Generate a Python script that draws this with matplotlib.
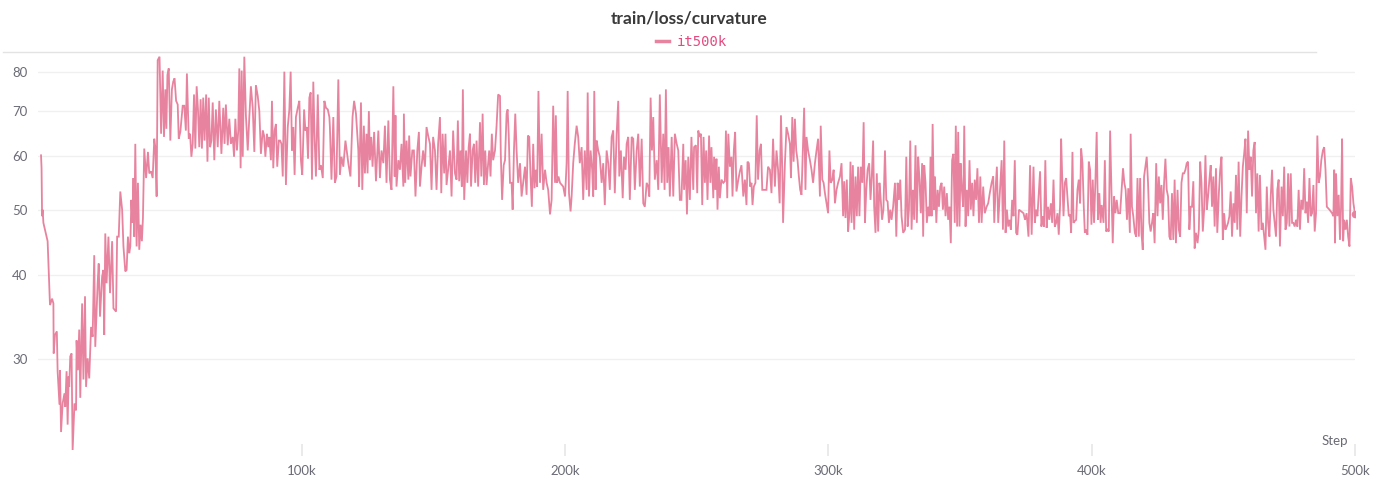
import numpy as np
import matplotlib
matplotlib.use("Agg")
import matplotlib.pyplot as plt
from matplotlib.lines import Line2D
from matplotlib.ticker import FixedLocator, NullLocator, FuncFormatter

# (step in k, curvature), split into stretches of the run
warmup = [
    (1.0, 60.2), (1.2, 57.6), (1.4, 48.9), (1.6, 50.0), (1.9, 47.8), (3.5, 44.9), (4.4, 36.1), (5.2, 36.9),
    (5.7, 36.3), (5.8, 30.6), (6.3, 32.6), (7.0, 33.0), (7.3, 28.8), (8.0, 25.7), (8.2, 28.9), (8.6, 23.4),
    (9.2, 25.8), (9.9, 26.7), (10.2, 25.5), (10.7, 28.8), (11.1, 24.0), (11.5, 28.3), (11.7, 27.3), (12.1, 30.3),
    (12.6, 30.6), (13.0, 22.0), (13.7, 25.8), (14.3, 25.2), (14.5, 32.0), (15.0, 28.9), (15.5, 33.2), (15.9, 26.3),
    (16.6, 36.3), (17.1, 28.0), (17.7, 37.2), (18.1, 27.3), (18.7, 30.1), (19.3, 28.1), (20.0, 33.5), (20.6, 32.4),
    (21.2, 42.8), (21.6, 31.3), (22.5, 38.9), (22.9, 41.6), (23.4, 34.7), (24.2, 39.8), (24.7, 40.7), (25.0, 32.6),
    (25.4, 46.1), (25.9, 38.9), (26.6, 45.6), (27.2, 37.6), (28.0, 44.9), (28.5, 35.7), (29.5, 35.3), (29.9, 45.6),
    (30.5, 45.6), (31.1, 53.2), (31.8, 50.0), (32.3, 44.1), (33.0, 40.5), (33.5, 40.7), (34.0, 45.6), (34.5, 43.1),
    (34.9, 44.1), (35.3, 51.7), (35.7, 47.8), (36.1, 55.7), (36.4, 45.6), (36.8, 62.6), (37.3, 44.1), (37.8, 54.8),
    (38.3, 43.6), (38.8, 47.5), (39.3, 44.9), (39.7, 48.6), (40.2, 61.6), (40.9, 55.7), (41.6, 60.9), (42.1, 56.6),
    (42.8, 57.0), (43.4, 55.7), (44.0, 63.7), (44.4, 61.9), (44.9, 52.3), (45.3, 83.3), (46.0, 84.3), (46.6, 64.8),
    (47.2, 80.4), (47.7, 64.1), (48.2, 75.4), (48.6, 65.9), (49.0, 79.2), (49.5, 81.0), (50.1, 63.3), (50.7, 75.4),
    (51.2, 77.4), (51.7, 78.3), (52.3, 72.5), (52.9, 71.6), (53.3, 63.7), (53.9, 65.2), (54.8, 71.3), (55.4, 71.3),
    (56.0, 65.5), (56.4, 79.6), (57.1, 63.7), (57.6, 64.8), (58.1, 59.9), (58.6, 62.6), (59.1, 74.1), (59.6, 61.6),
    (60.1, 76.2), (60.6, 70.4), (61.1, 61.9), (61.6, 72.9), (62.1, 61.6), (62.6, 73.3), (63.1, 63.3), (63.7, 74.1),
    (64.2, 58.9), (64.7, 73.3), (65.2, 61.9), (65.7, 63.3), (66.2, 72.1), (66.8, 59.2), (67.4, 70.4), (68.1, 61.9),
    (68.7, 72.5), (69.5, 60.5), (70.2, 70.8), (70.7, 62.6), (71.2, 71.6), (71.9, 62.3), (72.5, 68.2), (73.1, 62.6),
    (73.8, 64.1), (74.3, 59.9), (74.8, 68.2), (75.4, 61.2), (75.9, 65.5), (76.3, 81.0), (76.8, 57.6), (77.2, 80.4),
    (77.6, 59.9), (78.2, 84.3), (78.8, 69.0), (79.5, 61.2), (80.1, 68.6), (80.7, 76.2), (81.4, 70.8), (82.0, 60.9),
    (82.6, 76.5), (83.3, 73.7), (83.9, 70.0), (84.5, 60.5), (85.2, 65.5), (85.7, 64.4), (86.2, 59.9), (86.8, 64.8),
    (87.3, 61.9), (87.7, 64.1), (88.3, 59.2), (88.7, 72.5), (89.2, 57.6), (89.7, 65.5), (90.2, 67.0), (90.7, 57.9),
    (91.3, 63.3), (91.8, 63.3), (92.3, 62.6), (92.8, 56.0), (93.4, 80.1), (94.0, 54.4), (94.7, 66.3), (95.3, 70.4),
    (95.8, 80.1), (96.3, 61.2), (96.8, 66.3), (97.3, 56.3), (97.8, 68.6), (98.5, 70.8), (99.1, 72.5), (99.7, 59.2),
    (100.2, 56.3), (100.9, 70.4), (101.4, 65.5), (101.9, 66.3), (102.4, 59.5), (102.9, 73.3), (103.4, 74.6),
    (103.9, 55.4), (104.4, 77.4), (104.9, 63.7), (105.4, 56.0), (106.1, 74.1), (106.7, 57.3), (107.3, 58.2),
    (108.0, 55.7), (108.6, 72.5), (109.2, 70.8), (109.9, 70.4), (110.5, 68.6),
]

plateau = [
    (110.7, 66.3), (111.3, 55.4), (112.0, 68.6), (112.6, 54.8), (113.2, 56.0), (113.9, 78.0), (114.5, 56.3),
    (115.1, 59.9), (115.8, 57.9), (116.6, 63.3), (117.7, 58.6), (118.5, 56.0), (119.3, 68.6), (119.9, 72.5),
    (120.6, 69.4), (121.5, 61.2), (121.8, 54.1), (122.5, 72.1), (123.0, 53.5), (123.6, 66.6), (124.0, 56.6),
    (124.6, 64.8), (125.0, 56.6), (125.5, 70.0), (125.9, 59.2), (126.4, 64.1), (126.9, 57.9), (127.5, 65.2),
    (128.2, 55.1), (129.1, 65.5), (129.7, 55.7), (130.3, 61.2), (131.0, 58.6), (131.6, 66.6), (132.2, 54.8),
    (132.9, 67.8), (133.5, 55.4), (134.1, 53.5), (134.8, 76.2), (135.3, 56.0), (135.6, 69.0), (136.0, 54.1),
    (136.7, 59.2), (137.3, 57.3), (137.9, 62.6), (138.6, 54.1), (138.8, 69.4), (139.3, 54.8), (139.8, 63.3),
    (140.5, 55.4), (140.8, 64.4), (141.3, 56.0), (142.0, 61.2), (142.6, 61.2), (143.2, 52.3), (143.9, 61.2),
    (144.5, 65.2), (144.9, 54.1), (145.5, 57.9), (146.1, 61.2), (146.8, 57.9), (147.4, 66.3), (148.0, 64.4),
    (148.7, 62.6), (149.3, 53.5), (149.9, 64.1), (150.6, 61.2), (151.2, 53.5), (151.8, 62.6), (152.5, 68.6),
    (153.0, 52.9), (153.5, 64.8), (154.1, 56.6), (154.6, 64.8), (155.0, 54.4), (155.6, 57.3), (156.3, 61.2),
    (156.9, 52.3), (157.5, 65.5), (158.2, 56.6), (158.8, 55.4), (159.3, 67.8), (159.8, 55.1), (160.3, 61.2),
    (160.8, 54.1), (161.2, 75.4), (161.7, 51.7), (162.4, 61.2), (162.9, 54.8), (163.4, 61.9), (163.9, 64.8),
    (164.3, 54.1), (164.9, 61.2), (165.4, 62.6), (165.9, 54.8), (166.4, 63.3), (167.0, 54.1), (167.7, 67.4),
    (168.2, 56.0), (168.7, 69.4), (169.2, 54.4), (169.7, 61.2), (170.2, 54.4), (170.7, 57.9), (171.2, 61.2),
    (171.7, 56.0), (172.2, 64.8), (172.7, 59.2), (173.4, 61.2), (174.0, 66.6), (174.6, 74.1), (175.3, 73.7),
    (175.6, 60.5), (176.1, 51.7), (176.7, 58.2), (177.2, 59.2), (177.8, 69.4), (178.2, 70.4), (178.6, 64.8),
    (179.1, 54.8), (179.7, 54.8), (180.1, 50.0), (180.6, 61.2), (181.1, 69.4), (181.6, 61.2), (182.2, 54.8),
    (182.9, 58.6), (183.5, 52.3), (184.1, 54.8), (184.8, 57.9), (185.4, 52.6), (185.9, 64.4), (186.4, 64.1),
    (186.9, 56.0), (187.4, 50.5), (187.9, 62.6), (188.4, 53.8), (188.9, 57.3), (189.4, 54.1), (189.9, 75.0),
    (190.5, 54.8), (191.1, 64.8), (191.7, 53.5), (192.4, 57.3), (193.0, 54.8), (193.6, 53.5), (194.3, 49.2),
    (194.9, 51.7), (195.5, 71.3), (196.2, 54.8), (196.5, 69.0), (197.0, 54.8), (197.5, 56.0), (198.1, 54.8),
    (199.3, 54.1), (200.0, 52.3), (200.6, 58.6), (201.0, 75.0), (201.5, 52.9), (202.1, 49.7), (202.5, 52.3),
    (203.1, 58.6), (203.7, 62.6), (204.4, 66.6), (205.0, 64.1), (205.6, 58.6), (206.3, 61.9), (206.9, 51.7),
    (207.5, 61.2), (208.2, 53.5), (208.6, 74.6), (209.1, 52.3), (209.7, 61.2), (210.3, 57.3), (210.7, 52.3),
    (211.1, 75.0), (211.6, 53.5), (212.0, 63.3), (212.6, 61.2), (213.2, 59.9), (213.9, 54.8), (214.5, 58.6),
    (215.1, 50.8), (215.8, 61.2), (216.4, 58.6), (217.0, 53.5), (217.7, 64.1), (218.3, 65.5), (218.9, 52.9),
    (219.6, 64.8), (220.2, 72.5), (220.6, 56.0), (221.2, 61.2), (221.9, 52.0), (222.4, 59.9), (223.0, 57.3),
    (223.4, 62.6), (224.0, 64.1), (224.6, 51.7), (225.3, 64.1), (225.9, 63.7), (226.5, 53.5), (227.2, 61.2),
    (227.8, 64.8), (228.4, 54.1), (229.1, 63.7), (229.7, 51.1), (230.3, 50.5), (231.0, 54.8), (231.6, 54.1),
    (232.0, 52.3), (232.5, 73.3), (233.0, 61.2), (233.5, 68.6), (234.1, 55.4), (234.8, 59.2), (235.4, 53.5),
    (236.0, 74.1), (236.7, 54.8), (237.3, 64.8), (237.8, 53.5), (238.3, 75.4), (238.8, 54.8), (239.3, 61.9),
    (239.8, 52.3), (240.5, 64.1), (241.1, 52.3), (241.7, 64.8), (242.4, 62.6), (243.0, 61.2), (243.6, 51.7),
]

decline = [
    (244.2, 51.7), (244.9, 62.6), (245.2, 53.5), (245.8, 59.2), (246.3, 49.2), (246.8, 59.9), (247.4, 51.7),
    (248.0, 64.1), (248.7, 53.5), (249.0, 61.9), (249.7, 62.3), (250.2, 52.9), (250.6, 65.5), (251.1, 64.1),
    (251.6, 64.8), (252.1, 50.8), (252.6, 64.1), (253.1, 54.8), (253.6, 61.2), (254.1, 51.7), (254.7, 64.4),
    (255.2, 54.8), (255.6, 61.9), (256.3, 52.0), (256.6, 59.9), (257.1, 53.5), (257.5, 59.5), (257.9, 50.0),
    (258.4, 57.9), (258.8, 52.0), (259.4, 55.4), (260.1, 54.8), (260.7, 55.1), (261.1, 65.5), (261.6, 52.0),
    (262.0, 64.8), (262.6, 57.9), (263.2, 59.9), (263.6, 52.3), (264.1, 61.2), (264.6, 65.2), (265.1, 53.2),
    (265.8, 55.4), (266.4, 57.0), (267.0, 58.2), (267.7, 52.3), (268.3, 55.4), (268.9, 50.8), (269.3, 58.9),
    (269.8, 58.6), (270.3, 54.1), (270.8, 54.8), (271.2, 50.8), (271.7, 54.1), (272.3, 54.8), (272.8, 69.0),
    (273.3, 55.4), (273.9, 61.2), (274.4, 62.6), (274.9, 53.5), (275.9, 53.5), (276.5, 53.5), (277.1, 57.9),
    (277.8, 57.3), (278.4, 52.9), (279.0, 63.7), (279.7, 54.1), (280.3, 61.2), (280.9, 57.3), (281.5, 51.1),
    (282.0, 69.0), (282.5, 57.3), (282.8, 47.8), (283.5, 58.6), (284.1, 66.3), (284.7, 64.8), (285.4, 62.6),
    (285.8, 55.7), (286.3, 68.6), (286.8, 58.9), (287.3, 68.2), (287.8, 61.2), (288.3, 59.2), (288.8, 56.0),
    (289.3, 53.5), (289.8, 52.6), (290.3, 61.2), (290.8, 70.8), (291.3, 53.5), (291.7, 64.1), (292.3, 61.2),
    (293.0, 59.2), (293.6, 57.3), (294.2, 54.8), (294.9, 58.6), (295.5, 61.2), (296.1, 63.7), (296.8, 52.3),
    (297.1, 66.6), (297.7, 55.4), (298.2, 54.8), (298.7, 52.9), (299.3, 51.1), (299.9, 49.4), (300.4, 61.2),
    (300.9, 54.8), (301.5, 55.4), (302.0, 57.3), (302.5, 51.1), (303.1, 53.5), (303.7, 54.8), (304.4, 56.0),
    (305.0, 58.6), (305.6, 48.9), (306.0, 55.1), (306.5, 48.6), (307.0, 55.4), (307.5, 46.4), (308.0, 49.4),
    (308.4, 58.9), (308.8, 47.8), (309.3, 58.2), (309.8, 46.7), (310.3, 56.0), (310.8, 48.9), (311.3, 57.9),
    (311.8, 48.9), (312.3, 57.9), (312.9, 54.8), (313.4, 67.4), (313.9, 47.8), (314.4, 53.5), (314.9, 57.3),
    (315.5, 58.6), (316.0, 51.7), (316.5, 56.0), (317.0, 63.3), (317.4, 50.5), (317.9, 46.2), (318.4, 56.6),
    (318.9, 46.4), (319.4, 54.8), (319.9, 51.7), (320.4, 48.3), (320.9, 50.0), (321.5, 61.2), (322.0, 51.7),
    (322.5, 51.4), (323.0, 47.8), (323.5, 50.0), (324.0, 48.3), (324.6, 50.5), (325.3, 54.8), (325.8, 45.6),
    (326.3, 54.8), (326.8, 51.7), (327.3, 55.4), (327.8, 48.9), (328.4, 46.2), (329.1, 46.7), (329.6, 59.9),
    (330.1, 47.2), (330.6, 50.0), (331.1, 63.3), (331.6, 46.7), (332.1, 53.5), (332.6, 48.3), (333.1, 62.3),
    (333.6, 47.8), (334.1, 59.9), (334.6, 55.4), (335.1, 49.4), (335.6, 58.6), (336.0, 45.6), (336.4, 58.2),
    (336.9, 54.8), (337.4, 47.8), (337.9, 50.5), (338.4, 48.9), (338.8, 59.9), (339.2, 48.9), (339.6, 67.0),
    (340.1, 50.0), (340.5, 56.0), (341.0, 47.8), (341.5, 53.5), (342.0, 50.5), (342.5, 54.1), (343.0, 54.8),
    (343.5, 50.0), (344.0, 54.1), (344.5, 48.9), (345.0, 52.9), (345.5, 48.3), (346.0, 50.5), (346.5, 44.6),
    (347.0, 59.2), (347.5, 60.5), (348.0, 47.8), (348.4, 66.6), (348.9, 47.2), (349.3, 65.2), (349.8, 47.2),
    (350.2, 58.6), (350.7, 53.5), (351.2, 50.5), (351.6, 66.6), (352.1, 47.2), (352.6, 53.5), (353.1, 48.9),
    (353.6, 59.2), (354.1, 50.0), (354.6, 54.8), (355.1, 48.9), (355.6, 55.4), (356.1, 51.7), (356.6, 57.6),
    (357.2, 47.8), (357.7, 56.0), (358.2, 47.8), (358.8, 54.1), (359.4, 49.4), (360.1, 50.5), (360.7, 51.1),
    (361.3, 52.9), (362.0, 54.8), (362.6, 56.0), (363.0, 47.8), (363.5, 53.5), (364.0, 57.9), (364.5, 47.8),
    (365.1, 52.9), (365.8, 59.2), (366.3, 46.7), (366.8, 63.3), (367.3, 46.2), (367.8, 50.0), (368.3, 47.2),
    (368.8, 48.3), (369.3, 46.7), (369.8, 51.7), (370.3, 48.9), (370.8, 59.2), (371.3, 46.2), (371.8, 45.9),
    (372.4, 50.0),
]

tail = [
    (374.1, 49.4), (374.7, 48.3), (375.3, 49.4), (376.0, 45.6), (376.6, 58.2), (377.2, 45.9), (377.9, 57.9),
    (378.4, 47.8), (378.9, 50.0), (379.4, 48.9), (380.4, 57.0), (380.9, 47.2), (381.4, 48.9), (381.9, 47.2),
    (382.4, 59.2), (382.9, 47.0), (383.4, 50.5), (383.9, 48.3), (384.5, 51.1), (385.0, 47.8), (385.5, 55.4),
    (386.0, 47.2), (386.5, 47.8), (387.0, 49.4), (387.5, 45.9), (388.0, 50.8), (388.4, 63.7), (388.8, 56.0),
    (389.3, 48.9), (389.8, 54.8), (390.3, 55.7), (390.8, 52.3), (391.3, 48.9), (391.8, 49.2), (392.2, 46.2),
    (392.7, 60.9), (393.1, 47.8), (393.6, 48.1), (394.1, 48.3), (394.6, 53.5), (395.1, 55.4), (395.6, 51.1),
    (396.0, 61.6), (396.5, 58.6), (397.0, 50.5), (397.4, 46.2), (397.9, 46.7), (398.4, 45.9), (398.9, 58.9),
    (399.4, 57.3), (399.9, 47.5), (400.4, 55.4), (400.9, 47.8), (401.4, 54.8), (401.9, 65.2), (402.4, 48.3),
    (402.9, 52.9), (403.4, 47.8), (403.8, 50.8), (404.5, 47.8), (405.0, 59.2), (405.5, 46.4), (406.0, 46.7),
    (406.5, 46.4), (407.0, 65.5), (407.5, 53.5), (408.0, 44.6), (408.5, 52.3), (409.0, 49.4), (409.5, 51.7),
    (410.1, 49.4), (410.8, 49.4), (411.4, 53.8), (411.9, 57.6), (412.4, 54.8), (412.9, 53.5), (413.4, 48.3),
    (413.9, 53.8), (414.5, 46.2), (414.8, 64.8), (415.3, 50.5), (415.8, 48.9), (416.4, 46.2), (416.9, 45.6),
    (417.4, 55.7), (417.9, 45.6), (418.4, 55.7), (418.9, 46.2), (419.4, 43.6), (419.9, 56.0), (420.4, 57.9),
    (420.9, 59.9), (421.4, 54.8), (421.9, 47.8), (422.4, 46.4), (422.9, 47.8), (423.4, 49.4), (423.9, 44.6),
    (424.5, 58.6), (425.0, 48.9), (425.5, 56.0), (426.0, 51.1), (426.5, 54.4), (427.0, 48.3), (427.5, 54.8),
    (428.0, 59.5), (428.5, 53.5), (429.0, 52.3), (429.5, 45.6), (430.0, 45.1), (430.5, 52.9), (431.0, 45.1),
    (431.5, 55.4), (432.0, 44.6), (432.6, 53.5), (433.1, 46.7), (433.6, 45.6), (434.1, 54.8), (434.6, 56.6),
    (435.1, 56.6), (435.6, 57.3), (436.1, 58.6), (436.6, 58.9), (437.1, 46.7), (437.6, 50.5), (438.1, 50.5),
    (438.6, 55.1), (439.1, 43.8), (439.6, 46.2), (440.2, 44.6), (440.7, 46.7), (441.2, 58.9), (441.7, 54.8),
    (442.2, 46.4), (442.7, 50.0), (443.2, 60.2), (443.7, 50.0), (444.2, 52.3), (444.7, 55.4), (445.2, 58.2),
    (445.7, 50.5), (446.2, 56.0), (446.7, 47.2), (447.2, 57.6), (447.7, 46.2), (448.3, 52.9), (448.8, 57.3),
    (449.3, 59.9), (449.8, 45.1), (450.3, 49.4), (450.8, 46.7), (451.3, 47.2), (451.8, 47.8), (452.3, 48.9),
    (452.8, 53.2), (453.3, 45.6), (453.8, 51.1), (454.3, 47.8), (454.8, 56.3), (455.3, 46.7), (455.8, 58.9),
    (456.4, 45.6), (456.9, 52.3), (457.4, 57.9), (457.9, 60.5), (458.4, 63.7), (458.9, 49.4), (459.4, 65.5),
    (459.9, 57.3), (460.4, 59.9), (460.9, 52.3), (461.4, 61.2), (461.9, 63.0), (462.4, 49.4), (462.9, 56.6),
    (463.4, 46.4), (463.9, 56.3), (464.5, 46.7), (465.0, 47.8), (465.5, 45.6), (466.0, 43.6), (466.5, 54.1),
    (467.0, 47.8), (467.5, 45.6), (468.0, 52.3), (468.5, 57.3), (469.0, 50.0), (469.5, 47.8), (470.0, 45.6),
    (470.5, 53.5), (471.0, 55.4), (471.5, 44.1), (472.1, 54.1), (472.6, 48.9), (473.1, 57.9), (473.6, 46.7),
    (474.1, 47.8), (474.6, 56.6), (475.1, 47.2), (475.6, 56.6), (476.1, 47.8), (476.6, 47.8), (477.1, 47.2),
    (477.6, 48.3), (478.1, 47.2), (478.6, 53.5), (479.1, 46.7), (479.6, 51.7), (480.2, 50.0), (480.7, 57.6),
    (481.2, 49.4), (481.7, 51.4), (482.2, 47.8), (482.7, 55.7), (483.2, 48.9), (483.7, 49.4), (484.2, 54.4),
    (484.7, 46.4), (485.2, 49.4), (485.7, 64.4), (486.2, 54.8), (486.7, 56.0), (487.2, 59.2), (487.8, 61.2),
    (488.3, 61.9), (488.8, 57.3), (489.3, 50.5), (490.3, 50.0), (491.3, 49.4), (491.8, 48.9), (492.1, 57.3),
    (492.4, 44.6), (492.8, 56.6), (493.3, 48.9), (493.8, 52.6), (494.3, 45.1), (494.7, 50.5), (495.1, 63.7),
    (495.5, 44.9), (495.9, 48.3), (496.4, 46.7), (496.9, 48.3), (497.4, 45.6), (497.9, 44.1), (498.4, 55.7),
    (498.9, 54.1), (499.4, 51.1), (500.0, 49.3),
]

run_name = "it500k"
panel_title = "train/loss/curvature"
y_ticks = [30, 40, 50, 60, 70, 80]
x_ticks = [100000, 200000, 300000, 400000, 500000]

points = warmup + plateau + decline + tail
steps = np.array([p[0] for p in points]) * 1000
values = np.array([p[1] for p in points])

line_color = "#e8839f"
W, H = 1385, 491

fig = plt.figure(figsize=(W / 100, H / 100), dpi=100)
plt.rcParams["font.family"] = ["Lato", "DejaVu Sans"]

# axes placed in pixels: x 38..1355, y 56..450
ax = fig.add_axes([38.4 / W, (H - 450.1) / H, (1355 - 38.4) / W, (450.1 - 56) / H])
ax.plot(steps, values, color=line_color, lw=1.3, solid_joinstyle="miter")
ax.plot(steps[-1], values[-1], "o", color=line_color, ms=4.5)

ax.set_yscale("log")
ax.set_ylim(22.0, 84.5)
ax.set_xlim(0, 500000)

ax.yaxis.set_major_locator(FixedLocator(y_ticks))
ax.yaxis.set_minor_locator(NullLocator())
ax.yaxis.set_major_formatter(FuncFormatter(lambda v, _: f"{v:.0f}"))
ax.xaxis.set_major_locator(FixedLocator(x_ticks))
ax.xaxis.set_major_formatter(FuncFormatter(lambda v, _: f"{v / 1000:.0f}k"))

ax.grid(axis="y", color="#f0f0f0", lw=1.0)
ax.set_axisbelow(True)
for s in ax.spines.values():
    s.set_visible(False)

ax.tick_params(axis="y", length=0, pad=8, labelsize=9.5, labelcolor="#6b6b76")
ax.tick_params(axis="x", direction="inout", length=8, width=1.2, color="#e6e6e6",
               pad=7, labelsize=9.5, labelcolor="#6b6b76")

fig.text(1348 / W, 1 - 441 / H, "Step", ha="right", va="center", fontsize=9.5, color="#6b6b76")

# title + legend header
fig.text(689 / W, 1 - 19 / H, panel_title, ha="center", va="center",
         fontsize=12.5, fontweight="bold", color="#3a3a3a")
fig.add_artist(Line2D([656 / W, 669 / W], [1 - 41 / H, 1 - 41 / H], color=line_color, lw=2.5))
fig.text(677 / W, 1 - 42 / H, run_name, ha="left", va="center", fontsize=10,
         family="DejaVu Sans Mono", color="#e54a80")
fig.add_artist(Line2D([3 / W, 1316 / W], [1 - 52 / H, 1 - 52 / H], color="#e3e3e3", lw=1.0))

fig.savefig("out.png", dpi=100)
